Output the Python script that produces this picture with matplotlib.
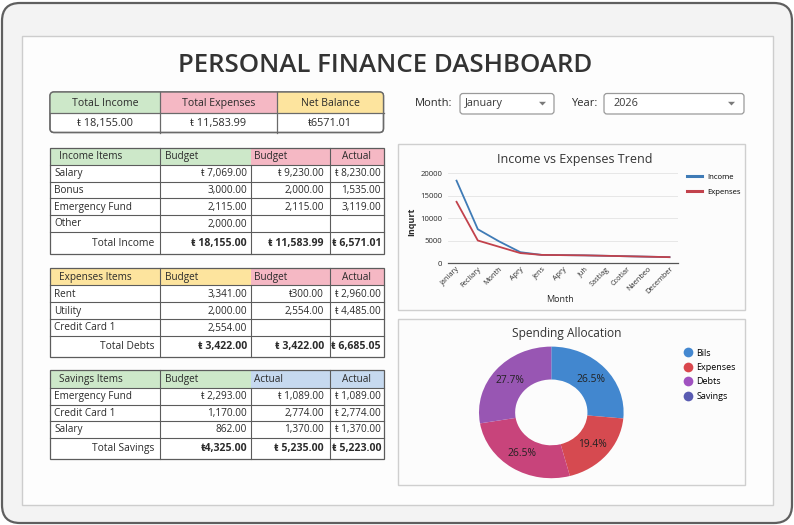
import matplotlib
matplotlib.use("Agg")
import matplotlib.pyplot as plt
from matplotlib.patches import Rectangle, FancyBboxPatch, Polygon
from matplotlib.lines import Line2D
import numpy as np

W, H = 794, 525
plt.rcParams['font.family'] = ['Open Sans', 'DejaVu Sans', 'Noto Sans']

# ---------------- data ----------------
title = "PERSONAL FINANCE DASHBOARD"
CUR = "\u0167"

summary_labels = ["TotaL Income", "Total Expenses", "Net Balance"]
summary_values = [CUR + " 18,155.00", CUR + " 11,583.99", CUR + "6571.01"]

income_header = ["Income Items", "Budget", "Budget", "Actual"]
income_items = ["Salary", "Bonus", "Emergency Fund", "Other"]
income_budget = [CUR + " 7,069.00", "3,000.00", "2,115.00", "2,000.00"]
income_budget2 = [CUR + " 9,230.00", "2,000.00", "2,115.00", ""]
income_actual = [CUR + " 8,230.00", "1,535.00", "3,119.00", ""]
income_totals = ["Total Income", CUR + " 18,155.00", CUR + " 11,583.99", CUR + " 6,571.01"]

expense_header = ["Expenses Items", "Budget", "Budget", "Actual"]
expense_items = ["Rent", "Utility", "Credit Card 1"]
expense_budget = ["3,341.00", "2,000.00", "2,554.00"]
expense_budget2 = [CUR + "300.00", "2,554.00", ""]
expense_actual = [CUR + " 2,960.00", CUR + " 4,485.00", ""]
expense_totals = ["Total Debts", CUR + " 3,422.00", CUR + " 3,422.00", CUR + " 6,685.05"]

savings_header = ["Savings Items", "Budget", "Actual", "Actual"]
savings_items = ["Emergency Fund", "Credit Card 1", "Salary"]
savings_budget = [CUR + " 2,293.00", "1,170.00", "862.00"]
savings_actual = [CUR + " 1,089.00", "2,774.00", "1,370.00"]
savings_actual2 = [CUR + " 1,089.00", CUR + " 2,774.00", CUR + " 1,370.00"]
savings_totals = ["Total Savings", CUR + "4,325.00", CUR + " 5,235.00", CUR + " 5,223.00"]

month_label, month_value = "Month:", "January"
year_label, year_value = "Year:", "2026"

trend_title = "Income vs Expenses Trend"
months = ["Janiary", "Fecliary", "Month", "Apry", "Jens", "Apry", "Juh",
          "Sastiag", "Ccotiar", "Naenbeo", "December"]
income_trend = [18300, 7500, 4800, 2400, 1800, 1750, 1700, 1600, 1500, 1400, 1300]
expense_trend = [13600, 5000, 3600, 2200, 1800, 1750, 1700, 1600, 1500, 1400, 1300]
trend_yticks = [0, 5000, 10000, 15000, 20000]

pie_title = "Spending Allocation"
pie_values = [26.5, 19.4, 26.5, 27.7]
pie_colors = ["#4287cf", "#d64a50", "#c8447b", "#9856b3"]
legend_labels = ["Bils", "Expenses", "Debts", "Savings"]
legend_colors = ["#4488d0", "#d9474d", "#a052c0", "#5a5cb2"]

GREEN, PINK, YELLOW, BLUE = "#cde8c9", "#f5b8c4", "#fde49e", "#c6d9ef"
TXT = "#2b2b2b"
LINE = "#5c5c5c"

# ---------------- figure ----------------
fig = plt.figure(figsize=(W / 100, H / 100), dpi=100)
fig.patch.set_facecolor("white")
bg = fig.add_axes([0, 0, 1, 1])
bg.set_xlim(0, W)
bg.set_ylim(H, 0)
bg.axis('off')

bg.add_patch(FancyBboxPatch((2, 3), W - 4, H - 5, boxstyle="round,pad=0,rounding_size=18",
                            fc="#f3f3f3", ec="#5f5f5f", lw=1.6))
bg.add_patch(Rectangle((22, 36), 751, 469, fc="#fdfdfd", ec="#cdcdcd", lw=1.0))

bg.text(385, 65.5, title, ha='center', va='center', fontsize=18.6, fontweight='semibold',
        color="#333333")

# ---- summary table ----
sx = [50, 160, 277, 383.5]
sy = [92, 113, 132.5]
sum_colors = [GREEN, PINK, YELLOW]
outline = FancyBboxPatch((sx[0], sy[0]), sx[-1] - sx[0], sy[-1] - sy[0],
                         boxstyle="round,pad=0,rounding_size=4", fc="white", ec="#6a6a6a", lw=1.0)
bg.add_patch(outline)
for i in range(3):
    r = Rectangle((sx[i], sy[0]), sx[i + 1] - sx[i], sy[1] - sy[0], fc=sum_colors[i], ec='none')
    bg.add_patch(r)
    r.set_clip_path(outline)
    bg.text((sx[i] + sx[i + 1]) / 2, (sy[0] + sy[1]) / 2 + 0.8, summary_labels[i], ha='center',
            va='center', fontsize=7.6, color=TXT, fontweight='medium')
    bg.text((sx[i] + sx[i + 1]) / 2, (sy[1] + sy[2]) / 2 + 0.5, summary_values[i], ha='center',
            va='center', fontsize=7.8, color=TXT)
bg.plot([sx[0], sx[-1]], [sy[1], sy[1]], color="#6a6a6a", lw=0.9)
for x in sx[1:-1]:
    bg.plot([x, x], [sy[0], sy[-1]], color="#6a6a6a", lw=0.9)
outline2 = FancyBboxPatch((sx[0], sy[0]), sx[-1] - sx[0], sy[-1] - sy[0],
                          boxstyle="round,pad=0,rounding_size=4", fc="none", ec="#6a6a6a", lw=1.0)
bg.add_patch(outline2)


# ---- item tables ----
def draw_table(xs, ys, header, hcolors, cols, totals):
    nrows = len(cols[0])
    for j in range(4):
        bg.add_patch(Rectangle((xs[j], ys[0]), xs[j + 1] - xs[j], ys[1] - ys[0], fc=hcolors[j], ec='none'))
    bg.add_patch(Rectangle((xs[0], ys[1]), xs[-1] - xs[0], ys[-1] - ys[1], fc='white', ec='none'))
    hy = (ys[0] + ys[1]) / 2 + 0.5
    bg.text(xs[0] + 9, hy, header[0], ha='left', va='center', fontsize=7.2, color=TXT)
    bg.text(xs[1] + 5, hy, header[1], ha='left', va='center', fontsize=7.2, color=TXT)
    bg.text(xs[2] + 3, hy, header[2], ha='left', va='center', fontsize=7.2, color=TXT)
    bg.text((xs[3] + xs[4]) / 2, hy, header[3], ha='center', va='center', fontsize=7.2, color=TXT)
    pads = [None, 4, 6, 3]
    for i in range(nrows):
        cy = (ys[i + 1] + ys[i + 2]) / 2 + 0.5
        bg.text(xs[0] + 4, cy, cols[0][i], ha='left', va='center', fontsize=7.2, color=TXT)
        for j in range(1, 4):
            bg.text(xs[j + 1] - pads[j], cy, cols[j][i], ha='right', va='center', fontsize=7.2,
                    color=TXT)
    ty = (ys[-2] + ys[-1]) / 2 + 0.5
    bg.text(xs[1] - 5, ty, totals[0], ha='right', va='center', fontsize=7.4, color=TXT)
    for j in range(1, 4):
        bg.text(xs[j + 1] - pads[j], ty, totals[j], ha='right', va='center', fontsize=7.6,
                color=TXT, fontweight='bold')
    for y in ys[1:-1]:
        bg.plot([xs[0], xs[-1]], [y, y], color=LINE, lw=0.8)
    for x in xs[1:-1]:
        top = ys[1] if x == xs[2] else ys[0]
        bg.plot([x, x], [top, ys[-1]], color=LINE, lw=0.8)
    bg.add_patch(Rectangle((xs[0], ys[0]), xs[-1] - xs[0], ys[-1] - ys[0], fc='none', ec=LINE, lw=0.9))


tx = [50, 159.5, 251, 330, 384]
draw_table(tx, [147.5, 165, 181.7, 198.3, 215, 232, 253.5], income_header,
           [GREEN, GREEN, PINK, PINK],
           [income_items, income_budget, income_budget2, income_actual], income_totals)
draw_table(tx, [268.3, 285, 302.3, 319.3, 335.7, 356.7], expense_header,
           [YELLOW, YELLOW, PINK, PINK],
           [expense_items, expense_budget, expense_budget2, expense_actual], expense_totals)
draw_table(tx, [370, 387.7, 404.7, 421, 437.7, 459.3], savings_header,
           [GREEN, GREEN, BLUE, BLUE],
           [savings_items, savings_budget, savings_actual, savings_actual2], savings_totals)


# ---- dropdowns ----
def dropdown(lx, label, bx0, bx1, value, text_pad, ax_arrow):
    bg.text(lx, 103.5, label, ha='left', va='center', fontsize=8, color=TXT, fontweight='medium')
    bg.add_patch(FancyBboxPatch((bx0, 93.5), bx1 - bx0, 20.5, boxstyle="round,pad=0,rounding_size=3",
                                fc="white", ec="#9a9a9a", lw=0.9))
    bg.text(bx0 + text_pad, 103.5, value, ha='left', va='center', fontsize=7.8, color="#3a3a3a")
    bg.add_patch(Polygon([[ax_arrow - 3.5, 101.8], [ax_arrow + 3.5, 101.8], [ax_arrow, 105.5]],
                         closed=True, fc="#7a7a7a", ec='none'))


dropdown(415, month_label, 460, 554, month_value, 5, 542.5)
dropdown(571.5, year_label, 604, 744, year_value, 10, 731.5)

# ---- panels ----
bg.add_patch(Rectangle((398, 143.5), 347, 166.5, fc="#fcfcfc", ec="#cfcfcf", lw=1.0))
bg.add_patch(Rectangle((398, 318.5), 347, 166, fc="#fcfcfc", ec="#cfcfcf", lw=1.0))

# ---- line chart ----
ax = fig.add_axes([448 / W, (H - 263) / H, 230 / W, 93 / H])
ax.set_facecolor('none')
x = np.arange(len(months))
ax.plot(x, income_trend, color="#3f7bb6", lw=1.3, label="Income")
ax.plot(x, expense_trend, color="#c2424c", lw=1.3, label="Expenses")
ax.set_xlim(-0.4, len(months) - 0.6)
ax.set_ylim(0, 20667)
ax.set_yticks(trend_yticks)
ax.set_yticklabels([str(v) for v in trend_yticks], fontsize=5.6, color=TXT)
ax.set_xticks(x)
ax.set_xticklabels(months, rotation=45, ha='right', rotation_mode='anchor', fontsize=5.2, color=TXT)
ax.tick_params(axis='both', length=0)
ax.tick_params(axis='y', pad=4)
ax.tick_params(axis='x', pad=2)
for s in ['top', 'right', 'left']:
    ax.spines[s].set_visible(False)
ax.spines['bottom'].set_color("#555555")
ax.spines['bottom'].set_linewidth(0.9)
ax.grid(axis='y', color="#e4e4e4", lw=0.6)
ax.set_axisbelow(True)
ax.set_xlabel("Month", fontsize=6.5, color=TXT, fontweight='medium')
ax.xaxis.set_label_coords((560 - 448) / 230, (263 - 295) / 93)
ax.set_ylabel("Inqurt", fontsize=6.5, color=TXT, fontweight='bold')
ax.yaxis.set_label_coords((416 - 448) / 230, (263 - 221.7) / 93)
ax.text((575 - 448) / 230, (263 - 159) / 93, trend_title, transform=ax.transAxes, ha='center',
        va='center', fontsize=9, color="#333333")
ax.legend(loc='upper left', bbox_to_anchor=(684, 170), bbox_transform=bg.transData, frameon=False,
          fontsize=5.6, handlelength=1.9, handletextpad=0.7, labelspacing=1.0, borderaxespad=0)
for ln in ax.get_legend().get_lines():
    ln.set_linewidth(2.2)

# ---- donut ----
cx, cy, rx, ry = 551.3, 412.4, 72.3, 65.8
ax2 = fig.add_axes([(cx - rx) / W, (H - (cy + ry)) / H, 2 * rx / W, 2 * ry / H])
ax2.pie(pie_values, colors=pie_colors, startangle=90, counterclock=False,
        wedgeprops=dict(width=0.5, edgecolor='none'), autopct='%.1f%%', pctdistance=0.75,
        textprops=dict(fontsize=7.4, color="#222222"))
ax2.set_aspect('auto')
ax2.set_xlim(-1, 1)
ax2.set_ylim(-1, 1)
bg.text(566.7, 333.3, pie_title, ha='center', va='center', fontsize=8.6, color="#333333")
handles = [Line2D([], [], marker='o', ls='none', markersize=7, markerfacecolor=c,
                  markeredgecolor='none') for c in legend_colors]
ax2.legend(handles, legend_labels, loc='upper left', bbox_to_anchor=(679, 345),
           bbox_transform=bg.transData, frameon=False, fontsize=6.5, handletextpad=0.3,
           labelspacing=0.6, borderaxespad=0, handlelength=1.2)

fig.savefig("out.png", dpi=100, facecolor=fig.get_facecolor())
